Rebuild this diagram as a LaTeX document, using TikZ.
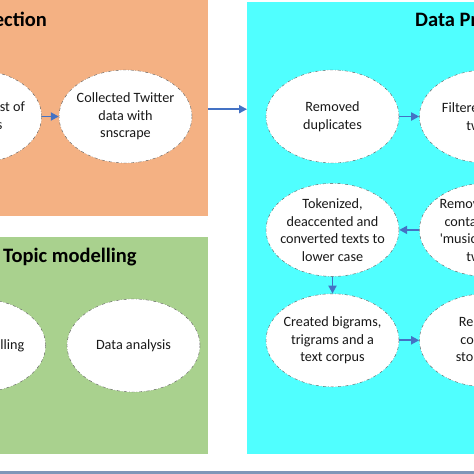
\documentclass[tikz,border=0pt]{standalone}
\usepackage{fontspec}
\setmainfont{Carlito}
\usetikzlibrary{shapes.geometric,arrows.meta,positioning}

\definecolor{collectcol}{HTML}{F4B183}
\definecolor{topiccol}{HTML}{A9D18E}
\definecolor{proccol}{HTML}{50FFFF}
\definecolor{linkcol}{HTML}{4472C4}
\definecolor{bandcol}{HTML}{7F96B8}

\begin{document}
\begin{tikzpicture}[
        x=1pt, y=-1pt,
        panel/.style={
            rectangle, draw=none, inner sep=0pt
        },
        title/.style={
            inner sep=0pt, text=black,
            font=\fontsize{20.5pt}{22pt}\selectfont\bfseries
        },
        stage/.style={
            ellipse, draw=black!65, thin, dash dot,
            fill=white, text=black!90,
            minimum width=133pt, minimum height=93pt,
            inner xsep=-10pt, inner ysep=-10pt, align=center,
            font=\fontsize{14.2pt}{17.5pt}\selectfont
        },
        link/.style={
            draw=linkcol, line width=1.8pt,
            -{Triangle[length=8pt,width=8pt]}
        }
      ]

  \useasboundingbox (0,0) rectangle (474,474);
  \clip (0,0) rectangle (474,474);

  % panels
  \node[panel, fill=collectcol, minimum width=260pt, minimum height=219pt, anchor=north east] (collect) at (208,-3) {};
  \node[panel, fill=topiccol, minimum width=260pt, minimum height=217pt, anchor=south east] (topic) at (208,454) {};
  \node[panel, fill=proccol, minimum width=260pt, minimum height=452pt, anchor=north west] (proc) at (247,2) {};
  \fill[bandcol] (0,471) rectangle (474,474);

  \node[title, anchor=base east] (collecttitle) at (47,26) {Data Collection};
  \node[title, anchor=base west] (topictitle) at (3,262) {Topic modelling};
  \node[title, anchor=base west] (proctitle) at (415,26) {Data Processing};

  % collection
  \node[stage] (collected) at (125.5,116.5) {Collected Twitter\\data with\\snscrape};
  \node[stage, left=17pt of collected] (keywords) {Compiled a list of\\keywords};

  % topic modelling
  \node[stage] (analysis) at (133.5,345.5) {Data analysis};
  \node[stage, left=21pt of analysis] (lda) {Topic modelling};

  % processing
  \node[stage] (dup) at (332.5,116.5) {Removed\\duplicates};
  \node[stage, right=20pt of dup] (filter) {Filtered English\\tweets};
  \node[stage, below=20pt of dup] (tokens) {Tokenized,\\deaccented and\\converted texts to\\lower case};
  \node[stage, right=20pt of tokens] (music) {Removed words\\containing the\\\textquotesingle music\textquotesingle{} keyword\\tweets};
  \node[stage, below=17pt of tokens] (bigrams) {Created bigrams,\\trigrams and a\\text corpus};
  \node[stage, right=20pt of bigrams] (stopwords) {Removed\\common\\stopwords};

  \coordinate (handoff) at ([yshift=-2.5pt]collect.east);

  \draw[link] (keywords) -- (collected);
  \draw[link] (handoff) -- (handoff -| proc.west);
  \draw[link] (dup) -- (filter);
  \draw[link] (music) -- (tokens);
  \draw[link] (tokens) -- (bigrams);
  \draw[link] (bigrams) -- (stopwords);
\end{tikzpicture}
\end{document}
